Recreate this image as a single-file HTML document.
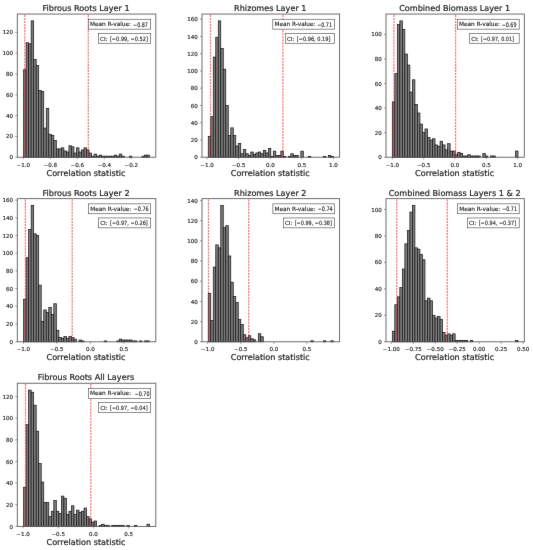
<!DOCTYPE html><html><head><meta charset="utf-8"><style>html,body{margin:0;padding:0;background:#fff;}svg{display:block;}text{text-rendering:geometricPrecision;font-family:"DejaVu Sans","Liberation Sans",sans-serif;fill:#222;stroke:#222;stroke-width:0.15;} text.bt{stroke-width:0.14;} text.tt{stroke-width:0.2;}</style></head><body>
<svg width="533" height="550" viewBox="0 0 533 550">
<rect width="533" height="550" fill="#fff"/>
<defs><filter id="bl" x="0" y="0" width="533" height="550" filterUnits="userSpaceOnUse" color-interpolation-filters="sRGB"><feConvolveMatrix order="3" kernelMatrix="0.00345 0.05875 0.00345 0.05875 1.00000 0.05875 0.00345 0.05875 0.00345" divisor="1.24881" edgeMode="duplicate"/></filter></defs><g filter="url(#bl)">
<g><g fill="#7c7c7c" stroke="#151515" stroke-width="0.7"><rect x="23.60" y="69.78" width="2.52" height="87.42"/><rect x="26.11" y="42.72" width="2.52" height="114.48"/><rect x="28.63" y="43.76" width="2.52" height="113.44"/><rect x="31.15" y="20.87" width="2.52" height="136.33"/><rect x="33.67" y="59.37" width="2.52" height="97.83"/><rect x="36.19" y="65.62" width="2.52" height="91.58"/><rect x="38.70" y="90.59" width="2.52" height="66.61"/><rect x="41.22" y="91.64" width="2.52" height="65.56"/><rect x="43.74" y="128.06" width="2.52" height="29.14"/><rect x="46.26" y="108.29" width="2.52" height="48.91"/><rect x="48.78" y="134.30" width="2.52" height="22.90"/><rect x="51.30" y="135.35" width="2.52" height="21.85"/><rect x="53.81" y="140.55" width="2.52" height="16.65"/><rect x="56.33" y="148.87" width="2.52" height="8.33"/><rect x="58.85" y="148.87" width="2.52" height="8.33"/><rect x="61.37" y="147.83" width="2.52" height="9.37"/><rect x="63.89" y="150.96" width="2.52" height="6.24"/><rect x="66.40" y="152.00" width="2.52" height="5.20"/><rect x="68.92" y="145.75" width="2.52" height="11.45"/><rect x="71.44" y="146.79" width="2.52" height="10.41"/><rect x="73.96" y="153.04" width="2.52" height="4.16"/><rect x="76.48" y="147.83" width="2.52" height="9.37"/><rect x="79.00" y="152.00" width="2.52" height="5.20"/><rect x="81.51" y="149.92" width="2.52" height="7.28"/><rect x="84.03" y="147.83" width="2.52" height="9.37"/><rect x="86.55" y="149.92" width="2.52" height="7.28"/><rect x="89.07" y="153.04" width="2.52" height="4.16"/><rect x="91.59" y="156.16" width="2.52" height="1.04"/><rect x="94.10" y="154.08" width="2.52" height="3.12"/><rect x="96.62" y="156.16" width="2.52" height="1.04"/><rect x="99.14" y="155.12" width="2.52" height="2.08"/><rect x="101.66" y="156.16" width="2.52" height="1.04"/><rect x="104.18" y="156.16" width="2.52" height="1.04"/><rect x="106.70" y="156.16" width="2.52" height="1.04"/><rect x="109.21" y="156.16" width="2.52" height="1.04"/><rect x="111.73" y="156.16" width="2.52" height="1.04"/><rect x="114.25" y="155.12" width="2.52" height="2.08"/><rect x="116.77" y="156.16" width="2.52" height="1.04"/><rect x="119.29" y="154.08" width="2.52" height="3.12"/><rect x="121.80" y="156.16" width="2.52" height="1.04"/><rect x="129.36" y="156.16" width="2.52" height="1.04"/><rect x="141.95" y="156.16" width="2.52" height="1.04"/><rect x="144.47" y="155.12" width="2.52" height="2.08"/><rect x="146.99" y="155.12" width="2.52" height="2.08"/></g><line x1="24.80" y1="157.20" x2="24.80" y2="14.05" stroke="#ff1020" stroke-opacity="0.58" stroke-width="1.25" stroke-dasharray="2.14 0.916" stroke-dashoffset="0.36"/><line x1="88.30" y1="157.20" x2="88.30" y2="14.05" stroke="#ff1020" stroke-opacity="0.58" stroke-width="1.25" stroke-dasharray="2.14 0.916" stroke-dashoffset="0.36"/><rect x="17.30" y="14.05" width="138.50" height="143.15" fill="none" stroke="#5e5e5e" stroke-width="0.9"/><line x1="23.30" y1="157.20" x2="23.30" y2="159.20" stroke="#5e5e5e" stroke-width="0.6"/><text x="23.30" y="166.55" font-size="5.55" text-anchor="middle">−1.0</text><line x1="50.30" y1="157.20" x2="50.30" y2="159.20" stroke="#5e5e5e" stroke-width="0.6"/><text x="50.30" y="166.55" font-size="5.55" text-anchor="middle">−0.8</text><line x1="77.30" y1="157.20" x2="77.30" y2="159.20" stroke="#5e5e5e" stroke-width="0.6"/><text x="77.30" y="166.55" font-size="5.55" text-anchor="middle">−0.6</text><line x1="104.30" y1="157.20" x2="104.30" y2="159.20" stroke="#5e5e5e" stroke-width="0.6"/><text x="104.30" y="166.55" font-size="5.55" text-anchor="middle">−0.4</text><line x1="131.30" y1="157.20" x2="131.30" y2="159.20" stroke="#5e5e5e" stroke-width="0.6"/><text x="131.30" y="166.55" font-size="5.55" text-anchor="middle">−0.2</text><line x1="15.30" y1="157.20" x2="17.30" y2="157.20" stroke="#5e5e5e" stroke-width="0.6"/><text x="13.10" y="159.30" font-size="5.55" text-anchor="end">0</text><line x1="15.30" y1="136.39" x2="17.30" y2="136.39" stroke="#5e5e5e" stroke-width="0.6"/><text x="13.10" y="138.49" font-size="5.55" text-anchor="end">20</text><line x1="15.30" y1="115.57" x2="17.30" y2="115.57" stroke="#5e5e5e" stroke-width="0.6"/><text x="13.10" y="117.67" font-size="5.55" text-anchor="end">40</text><line x1="15.30" y1="94.76" x2="17.30" y2="94.76" stroke="#5e5e5e" stroke-width="0.6"/><text x="13.10" y="96.86" font-size="5.55" text-anchor="end">60</text><line x1="15.30" y1="73.94" x2="17.30" y2="73.94" stroke="#5e5e5e" stroke-width="0.6"/><text x="13.10" y="76.04" font-size="5.55" text-anchor="end">80</text><line x1="15.30" y1="53.13" x2="17.30" y2="53.13" stroke="#5e5e5e" stroke-width="0.6"/><text x="13.10" y="55.23" font-size="5.55" text-anchor="end">100</text><line x1="15.30" y1="32.31" x2="17.30" y2="32.31" stroke="#5e5e5e" stroke-width="0.6"/><text x="13.10" y="34.41" font-size="5.55" text-anchor="end">120</text><text x="86.05" y="10.95" font-size="8.15" text-anchor="middle" class="tt">Fibrous Roots Layer 1</text><text x="86.05" y="175.80" font-size="8.1" text-anchor="middle" class="tt">Correlation statistic</text><rect x="88.30" y="19.25" width="62.40" height="9.90" fill="#fff" stroke="#444" stroke-width="0.6"/><text x="89.88" y="26.15" font-size="5.8" class="bt">Mean R-value:</text><text x="133.10" y="26.85" font-size="6.2" textLength="14.80" lengthAdjust="spacingAndGlyphs" class="bt">−0.87</text><rect x="98.50" y="33.35" width="52.20" height="9.90" fill="#fff" stroke="#444" stroke-width="0.6"/><text x="100.12" y="40.75" font-size="5.5" class="bt">CI:</text><text x="109.90" y="40.75" font-size="5.9" textLength="38.00" lengthAdjust="spacingAndGlyphs" class="bt">[−0.99, −0.52]</text></g>
<g><g fill="#7c7c7c" stroke="#151515" stroke-width="0.7"><rect x="208.25" y="136.49" width="2.50" height="20.71"/><rect x="210.76" y="116.65" width="2.50" height="40.55"/><rect x="213.26" y="57.11" width="2.50" height="100.09"/><rect x="215.76" y="37.26" width="2.50" height="119.94"/><rect x="218.26" y="20.87" width="2.50" height="136.33"/><rect x="220.76" y="48.48" width="2.50" height="108.72"/><rect x="223.27" y="69.19" width="2.50" height="88.01"/><rect x="225.77" y="105.43" width="2.50" height="51.77"/><rect x="228.27" y="135.63" width="2.50" height="21.57"/><rect x="230.77" y="127.86" width="2.50" height="29.34"/><rect x="233.27" y="135.63" width="2.50" height="21.57"/><rect x="235.77" y="145.98" width="2.50" height="11.22"/><rect x="238.28" y="143.39" width="2.50" height="13.81"/><rect x="240.78" y="153.75" width="2.50" height="3.45"/><rect x="243.28" y="149.43" width="2.50" height="7.77"/><rect x="245.78" y="153.75" width="2.50" height="3.45"/><rect x="248.28" y="155.47" width="2.50" height="1.73"/><rect x="250.79" y="152.02" width="2.50" height="5.18"/><rect x="253.29" y="154.61" width="2.50" height="2.59"/><rect x="255.79" y="152.89" width="2.50" height="4.31"/><rect x="258.29" y="152.02" width="2.50" height="5.18"/><rect x="260.79" y="153.75" width="2.50" height="3.45"/><rect x="263.29" y="150.30" width="2.50" height="6.90"/><rect x="265.80" y="152.89" width="2.50" height="4.31"/><rect x="268.30" y="148.57" width="2.50" height="8.63"/><rect x="270.80" y="156.34" width="2.50" height="0.86"/><rect x="273.30" y="151.16" width="2.50" height="6.04"/><rect x="275.80" y="155.47" width="2.50" height="1.73"/><rect x="278.31" y="155.47" width="2.50" height="1.73"/><rect x="280.81" y="151.16" width="2.50" height="6.04"/><rect x="283.31" y="156.34" width="2.50" height="0.86"/><rect x="288.31" y="156.34" width="2.50" height="0.86"/><rect x="290.81" y="153.75" width="2.50" height="3.45"/><rect x="293.32" y="155.47" width="2.50" height="1.73"/><rect x="295.82" y="155.47" width="2.50" height="1.73"/><rect x="300.82" y="151.16" width="2.50" height="6.04"/><rect x="308.33" y="156.34" width="2.50" height="0.86"/><rect x="323.34" y="156.34" width="2.50" height="0.86"/><rect x="328.34" y="155.47" width="2.50" height="1.73"/><rect x="330.84" y="156.34" width="2.50" height="0.86"/></g><line x1="210.50" y1="157.20" x2="210.50" y2="14.05" stroke="#ff1020" stroke-opacity="0.58" stroke-width="1.25" stroke-dasharray="2.14 0.916" stroke-dashoffset="0.36"/><line x1="282.90" y1="157.20" x2="282.90" y2="14.05" stroke="#ff1020" stroke-opacity="0.58" stroke-width="1.25" stroke-dasharray="2.14 0.916" stroke-dashoffset="0.36"/><rect x="202.00" y="14.05" width="137.60" height="143.15" fill="none" stroke="#5e5e5e" stroke-width="0.9"/><line x1="207.10" y1="157.20" x2="207.10" y2="159.20" stroke="#5e5e5e" stroke-width="0.6"/><text x="207.10" y="166.55" font-size="5.55" text-anchor="middle">−1.0</text><line x1="238.70" y1="157.20" x2="238.70" y2="159.20" stroke="#5e5e5e" stroke-width="0.6"/><text x="238.70" y="166.55" font-size="5.55" text-anchor="middle">−0.5</text><line x1="270.30" y1="157.20" x2="270.30" y2="159.20" stroke="#5e5e5e" stroke-width="0.6"/><text x="270.30" y="166.55" font-size="5.55" text-anchor="middle">0.0</text><line x1="301.90" y1="157.20" x2="301.90" y2="159.20" stroke="#5e5e5e" stroke-width="0.6"/><text x="301.90" y="166.55" font-size="5.55" text-anchor="middle">0.5</text><line x1="333.50" y1="157.20" x2="333.50" y2="159.20" stroke="#5e5e5e" stroke-width="0.6"/><text x="333.50" y="166.55" font-size="5.55" text-anchor="middle">1.0</text><line x1="200.00" y1="157.20" x2="202.00" y2="157.20" stroke="#5e5e5e" stroke-width="0.6"/><text x="197.80" y="159.30" font-size="5.55" text-anchor="end">0</text><line x1="200.00" y1="139.94" x2="202.00" y2="139.94" stroke="#5e5e5e" stroke-width="0.6"/><text x="197.80" y="142.04" font-size="5.55" text-anchor="end">20</text><line x1="200.00" y1="122.69" x2="202.00" y2="122.69" stroke="#5e5e5e" stroke-width="0.6"/><text x="197.80" y="124.79" font-size="5.55" text-anchor="end">40</text><line x1="200.00" y1="105.43" x2="202.00" y2="105.43" stroke="#5e5e5e" stroke-width="0.6"/><text x="197.80" y="107.53" font-size="5.55" text-anchor="end">60</text><line x1="200.00" y1="88.17" x2="202.00" y2="88.17" stroke="#5e5e5e" stroke-width="0.6"/><text x="197.80" y="90.27" font-size="5.55" text-anchor="end">80</text><line x1="200.00" y1="70.91" x2="202.00" y2="70.91" stroke="#5e5e5e" stroke-width="0.6"/><text x="197.80" y="73.01" font-size="5.55" text-anchor="end">100</text><line x1="200.00" y1="53.66" x2="202.00" y2="53.66" stroke="#5e5e5e" stroke-width="0.6"/><text x="197.80" y="55.76" font-size="5.55" text-anchor="end">120</text><line x1="200.00" y1="36.40" x2="202.00" y2="36.40" stroke="#5e5e5e" stroke-width="0.6"/><text x="197.80" y="38.50" font-size="5.55" text-anchor="end">140</text><line x1="200.00" y1="19.14" x2="202.00" y2="19.14" stroke="#5e5e5e" stroke-width="0.6"/><text x="197.80" y="21.24" font-size="5.55" text-anchor="end">160</text><text x="270.30" y="10.95" font-size="8.15" text-anchor="middle" class="tt">Rhizomes Layer 1</text><text x="270.30" y="175.80" font-size="8.1" text-anchor="middle" class="tt">Correlation statistic</text><rect x="272.80" y="19.25" width="61.70" height="9.90" fill="#fff" stroke="#444" stroke-width="0.6"/><text x="274.38" y="26.15" font-size="5.8" class="bt">Mean R-value:</text><text x="317.20" y="26.85" font-size="6.2" textLength="14.80" lengthAdjust="spacingAndGlyphs" class="bt">−0.71</text><rect x="285.30" y="33.35" width="49.20" height="9.90" fill="#fff" stroke="#444" stroke-width="0.6"/><text x="286.93" y="40.75" font-size="5.5" class="bt">CI:</text><text x="296.70" y="40.75" font-size="5.9" textLength="33.80" lengthAdjust="spacingAndGlyphs" class="bt">[−0.96, 0.19]</text></g>
<g><g fill="#7c7c7c" stroke="#151515" stroke-width="0.7"><rect x="392.29" y="101.93" width="2.51" height="55.27"/><rect x="394.80" y="73.68" width="2.51" height="83.52"/><rect x="397.32" y="24.55" width="2.51" height="132.65"/><rect x="399.83" y="20.87" width="2.51" height="136.33"/><rect x="402.34" y="29.46" width="2.51" height="127.74"/><rect x="404.86" y="54.03" width="2.51" height="103.17"/><rect x="407.37" y="65.08" width="2.51" height="92.12"/><rect x="409.89" y="92.10" width="2.51" height="65.10"/><rect x="412.40" y="79.82" width="2.51" height="77.38"/><rect x="414.92" y="104.39" width="2.51" height="52.81"/><rect x="417.43" y="112.98" width="2.51" height="44.22"/><rect x="419.95" y="124.04" width="2.51" height="33.16"/><rect x="422.46" y="132.64" width="2.51" height="24.56"/><rect x="424.98" y="128.95" width="2.51" height="28.25"/><rect x="427.49" y="137.55" width="2.51" height="19.65"/><rect x="430.00" y="140.00" width="2.51" height="17.20"/><rect x="432.52" y="138.78" width="2.51" height="18.42"/><rect x="435.03" y="144.92" width="2.51" height="12.28"/><rect x="437.55" y="146.15" width="2.51" height="11.05"/><rect x="440.06" y="141.23" width="2.51" height="15.97"/><rect x="442.58" y="144.92" width="2.51" height="12.28"/><rect x="445.09" y="149.83" width="2.51" height="7.37"/><rect x="447.61" y="143.69" width="2.51" height="13.51"/><rect x="450.12" y="151.06" width="2.51" height="6.14"/><rect x="452.64" y="151.06" width="2.51" height="6.14"/><rect x="455.15" y="154.74" width="2.51" height="2.46"/><rect x="457.66" y="152.29" width="2.51" height="4.91"/><rect x="460.18" y="153.52" width="2.51" height="3.68"/><rect x="462.69" y="155.97" width="2.51" height="1.23"/><rect x="465.21" y="155.97" width="2.51" height="1.23"/><rect x="467.72" y="154.74" width="2.51" height="2.46"/><rect x="470.24" y="155.97" width="2.51" height="1.23"/><rect x="472.75" y="155.97" width="2.51" height="1.23"/><rect x="475.27" y="155.97" width="2.51" height="1.23"/><rect x="477.78" y="155.97" width="2.51" height="1.23"/><rect x="482.81" y="153.52" width="2.51" height="3.68"/><rect x="485.32" y="155.97" width="2.51" height="1.23"/><rect x="490.35" y="155.97" width="2.51" height="1.23"/><rect x="492.87" y="155.97" width="2.51" height="1.23"/><rect x="515.50" y="151.06" width="2.51" height="6.14"/></g><line x1="394.00" y1="157.20" x2="394.00" y2="14.05" stroke="#ff1020" stroke-opacity="0.58" stroke-width="1.25" stroke-dasharray="2.14 0.916" stroke-dashoffset="0.36"/><line x1="455.60" y1="157.20" x2="455.60" y2="14.05" stroke="#ff1020" stroke-opacity="0.58" stroke-width="1.25" stroke-dasharray="2.14 0.916" stroke-dashoffset="0.36"/><rect x="386.00" y="14.05" width="138.30" height="143.15" fill="none" stroke="#5e5e5e" stroke-width="0.9"/><line x1="392.40" y1="157.20" x2="392.40" y2="159.20" stroke="#5e5e5e" stroke-width="0.6"/><text x="392.40" y="166.55" font-size="5.55" text-anchor="middle">−1.0</text><line x1="423.70" y1="157.20" x2="423.70" y2="159.20" stroke="#5e5e5e" stroke-width="0.6"/><text x="423.70" y="166.55" font-size="5.55" text-anchor="middle">−0.5</text><line x1="455.00" y1="157.20" x2="455.00" y2="159.20" stroke="#5e5e5e" stroke-width="0.6"/><text x="455.00" y="166.55" font-size="5.55" text-anchor="middle">0.0</text><line x1="486.30" y1="157.20" x2="486.30" y2="159.20" stroke="#5e5e5e" stroke-width="0.6"/><text x="486.30" y="166.55" font-size="5.55" text-anchor="middle">0.5</text><line x1="517.60" y1="157.20" x2="517.60" y2="159.20" stroke="#5e5e5e" stroke-width="0.6"/><text x="517.60" y="166.55" font-size="5.55" text-anchor="middle">1.0</text><line x1="384.00" y1="157.20" x2="386.00" y2="157.20" stroke="#5e5e5e" stroke-width="0.6"/><text x="381.80" y="159.30" font-size="5.55" text-anchor="end">0</text><line x1="384.00" y1="132.64" x2="386.00" y2="132.64" stroke="#5e5e5e" stroke-width="0.6"/><text x="381.80" y="134.74" font-size="5.55" text-anchor="end">20</text><line x1="384.00" y1="108.07" x2="386.00" y2="108.07" stroke="#5e5e5e" stroke-width="0.6"/><text x="381.80" y="110.17" font-size="5.55" text-anchor="end">40</text><line x1="384.00" y1="83.51" x2="386.00" y2="83.51" stroke="#5e5e5e" stroke-width="0.6"/><text x="381.80" y="85.61" font-size="5.55" text-anchor="end">60</text><line x1="384.00" y1="58.94" x2="386.00" y2="58.94" stroke="#5e5e5e" stroke-width="0.6"/><text x="381.80" y="61.04" font-size="5.55" text-anchor="end">80</text><line x1="384.00" y1="34.38" x2="386.00" y2="34.38" stroke="#5e5e5e" stroke-width="0.6"/><text x="381.80" y="36.48" font-size="5.55" text-anchor="end">100</text><text x="454.65" y="10.95" font-size="8.15" text-anchor="middle" class="tt">Combined Biomass Layer 1</text><text x="454.65" y="175.80" font-size="8.1" text-anchor="middle" class="tt">Correlation statistic</text><rect x="457.30" y="19.25" width="61.90" height="9.90" fill="#fff" stroke="#444" stroke-width="0.6"/><text x="458.88" y="26.15" font-size="5.8" class="bt">Mean R-value:</text><text x="501.70" y="26.85" font-size="6.2" textLength="14.80" lengthAdjust="spacingAndGlyphs" class="bt">−0.69</text><rect x="469.70" y="33.35" width="49.50" height="9.90" fill="#fff" stroke="#444" stroke-width="0.6"/><text x="471.32" y="40.75" font-size="5.5" class="bt">CI:</text><text x="481.10" y="40.75" font-size="5.9" textLength="32.90" lengthAdjust="spacingAndGlyphs" class="bt">[−0.97, 0.01]</text></g>
<g><g fill="#7c7c7c" stroke="#151515" stroke-width="0.7"><rect x="23.60" y="299.31" width="2.52" height="42.49"/><rect x="26.11" y="257.70" width="2.52" height="84.10"/><rect x="28.63" y="229.37" width="2.52" height="112.43"/><rect x="31.15" y="205.47" width="2.52" height="136.33"/><rect x="33.67" y="233.80" width="2.52" height="108.00"/><rect x="36.19" y="235.57" width="2.52" height="106.23"/><rect x="38.70" y="285.14" width="2.52" height="56.66"/><rect x="41.22" y="321.44" width="2.52" height="20.36"/><rect x="43.74" y="309.93" width="2.52" height="31.87"/><rect x="46.26" y="312.59" width="2.52" height="29.21"/><rect x="48.78" y="307.27" width="2.52" height="34.53"/><rect x="51.30" y="314.36" width="2.52" height="27.44"/><rect x="53.81" y="303.73" width="2.52" height="38.07"/><rect x="56.33" y="330.29" width="2.52" height="11.51"/><rect x="58.85" y="337.37" width="2.52" height="4.43"/><rect x="61.37" y="338.26" width="2.52" height="3.54"/><rect x="63.89" y="336.49" width="2.52" height="5.31"/><rect x="66.40" y="338.26" width="2.52" height="3.54"/><rect x="68.92" y="336.49" width="2.52" height="5.31"/><rect x="71.44" y="337.37" width="2.52" height="4.43"/><rect x="73.96" y="339.14" width="2.52" height="2.66"/><rect x="79.00" y="340.03" width="2.52" height="1.77"/><rect x="81.51" y="340.91" width="2.52" height="0.89"/><rect x="104.18" y="340.91" width="2.52" height="0.89"/><rect x="116.77" y="340.91" width="2.52" height="0.89"/><rect x="119.29" y="339.14" width="2.52" height="2.66"/><rect x="121.80" y="340.03" width="2.52" height="1.77"/><rect x="124.32" y="340.03" width="2.52" height="1.77"/><rect x="126.84" y="340.03" width="2.52" height="1.77"/><rect x="129.36" y="340.03" width="2.52" height="1.77"/><rect x="131.88" y="340.91" width="2.52" height="0.89"/><rect x="134.40" y="340.91" width="2.52" height="0.89"/><rect x="139.43" y="340.91" width="2.52" height="0.89"/><rect x="144.47" y="340.91" width="2.52" height="0.89"/><rect x="146.99" y="340.91" width="2.52" height="0.89"/></g><line x1="25.40" y1="341.80" x2="25.40" y2="198.65" stroke="#ff1020" stroke-opacity="0.58" stroke-width="1.25" stroke-dasharray="2.14 0.916" stroke-dashoffset="0.36"/><line x1="72.20" y1="341.80" x2="72.20" y2="198.65" stroke="#ff1020" stroke-opacity="0.58" stroke-width="1.25" stroke-dasharray="2.14 0.916" stroke-dashoffset="0.36"/><rect x="17.30" y="198.65" width="138.50" height="143.15" fill="none" stroke="#5e5e5e" stroke-width="0.9"/><line x1="23.40" y1="341.80" x2="23.40" y2="343.80" stroke="#5e5e5e" stroke-width="0.6"/><text x="23.40" y="351.15" font-size="5.55" text-anchor="middle">−1.0</text><line x1="56.90" y1="341.80" x2="56.90" y2="343.80" stroke="#5e5e5e" stroke-width="0.6"/><text x="56.90" y="351.15" font-size="5.55" text-anchor="middle">−0.5</text><line x1="90.40" y1="341.80" x2="90.40" y2="343.80" stroke="#5e5e5e" stroke-width="0.6"/><text x="90.40" y="351.15" font-size="5.55" text-anchor="middle">0.0</text><line x1="123.90" y1="341.80" x2="123.90" y2="343.80" stroke="#5e5e5e" stroke-width="0.6"/><text x="123.90" y="351.15" font-size="5.55" text-anchor="middle">0.5</text><line x1="15.30" y1="341.80" x2="17.30" y2="341.80" stroke="#5e5e5e" stroke-width="0.6"/><text x="13.10" y="343.90" font-size="5.55" text-anchor="end">0</text><line x1="15.30" y1="324.09" x2="17.30" y2="324.09" stroke="#5e5e5e" stroke-width="0.6"/><text x="13.10" y="326.19" font-size="5.55" text-anchor="end">20</text><line x1="15.30" y1="306.39" x2="17.30" y2="306.39" stroke="#5e5e5e" stroke-width="0.6"/><text x="13.10" y="308.49" font-size="5.55" text-anchor="end">40</text><line x1="15.30" y1="288.68" x2="17.30" y2="288.68" stroke="#5e5e5e" stroke-width="0.6"/><text x="13.10" y="290.78" font-size="5.55" text-anchor="end">60</text><line x1="15.30" y1="270.98" x2="17.30" y2="270.98" stroke="#5e5e5e" stroke-width="0.6"/><text x="13.10" y="273.08" font-size="5.55" text-anchor="end">80</text><line x1="15.30" y1="253.27" x2="17.30" y2="253.27" stroke="#5e5e5e" stroke-width="0.6"/><text x="13.10" y="255.37" font-size="5.55" text-anchor="end">100</text><line x1="15.30" y1="235.57" x2="17.30" y2="235.57" stroke="#5e5e5e" stroke-width="0.6"/><text x="13.10" y="237.67" font-size="5.55" text-anchor="end">120</text><line x1="15.30" y1="217.86" x2="17.30" y2="217.86" stroke="#5e5e5e" stroke-width="0.6"/><text x="13.10" y="219.96" font-size="5.55" text-anchor="end">140</text><line x1="15.30" y1="200.15" x2="17.30" y2="200.15" stroke="#5e5e5e" stroke-width="0.6"/><text x="13.10" y="202.25" font-size="5.55" text-anchor="end">160</text><text x="86.05" y="195.55" font-size="8.15" text-anchor="middle" class="tt">Fibrous Roots Layer 2</text><text x="86.05" y="360.40" font-size="8.1" text-anchor="middle" class="tt">Correlation statistic</text><rect x="88.60" y="203.85" width="62.10" height="9.90" fill="#fff" stroke="#444" stroke-width="0.6"/><text x="90.18" y="210.75" font-size="5.8" class="bt">Mean R-value:</text><text x="133.80" y="211.45" font-size="6.2" textLength="14.80" lengthAdjust="spacingAndGlyphs" class="bt">−0.76</text><rect x="98.60" y="217.95" width="52.10" height="9.90" fill="#fff" stroke="#444" stroke-width="0.6"/><text x="100.22" y="225.35" font-size="5.5" class="bt">CI:</text><text x="110.00" y="225.35" font-size="5.9" textLength="37.80" lengthAdjust="spacingAndGlyphs" class="bt">[−0.97, −0.26]</text></g>
<g><g fill="#7c7c7c" stroke="#151515" stroke-width="0.7"><rect x="208.25" y="293.33" width="2.50" height="48.47"/><rect x="210.76" y="320.59" width="2.50" height="21.21"/><rect x="213.26" y="267.07" width="2.50" height="74.73"/><rect x="215.76" y="244.85" width="2.50" height="96.95"/><rect x="218.26" y="247.88" width="2.50" height="93.92"/><rect x="220.76" y="205.47" width="2.50" height="136.33"/><rect x="223.27" y="227.68" width="2.50" height="114.12"/><rect x="225.77" y="225.66" width="2.50" height="116.14"/><rect x="228.27" y="255.96" width="2.50" height="85.84"/><rect x="230.77" y="282.22" width="2.50" height="59.58"/><rect x="233.27" y="296.36" width="2.50" height="45.44"/><rect x="235.77" y="302.41" width="2.50" height="39.39"/><rect x="238.28" y="319.58" width="2.50" height="22.22"/><rect x="240.78" y="324.63" width="2.50" height="17.17"/><rect x="243.28" y="334.73" width="2.50" height="7.07"/><rect x="245.78" y="337.76" width="2.50" height="4.04"/><rect x="248.28" y="335.74" width="2.50" height="6.06"/><rect x="250.79" y="338.77" width="2.50" height="3.03"/><rect x="253.29" y="339.78" width="2.50" height="2.02"/><rect x="258.29" y="333.72" width="2.50" height="8.08"/><rect x="260.79" y="336.75" width="2.50" height="5.05"/><rect x="310.83" y="340.79" width="2.50" height="1.01"/><rect x="323.34" y="340.79" width="2.50" height="1.01"/><rect x="330.84" y="340.79" width="2.50" height="1.01"/></g><line x1="208.50" y1="341.80" x2="208.50" y2="198.65" stroke="#ff1020" stroke-opacity="0.58" stroke-width="1.25" stroke-dasharray="2.14 0.916" stroke-dashoffset="0.36"/><line x1="248.70" y1="341.80" x2="248.70" y2="198.65" stroke="#ff1020" stroke-opacity="0.58" stroke-width="1.25" stroke-dasharray="2.14 0.916" stroke-dashoffset="0.36"/><rect x="202.00" y="198.65" width="137.60" height="143.15" fill="none" stroke="#5e5e5e" stroke-width="0.9"/><line x1="207.70" y1="341.80" x2="207.70" y2="343.80" stroke="#5e5e5e" stroke-width="0.6"/><text x="207.70" y="351.15" font-size="5.55" text-anchor="middle">−1.0</text><line x1="240.77" y1="341.80" x2="240.77" y2="343.80" stroke="#5e5e5e" stroke-width="0.6"/><text x="240.77" y="351.15" font-size="5.55" text-anchor="middle">−0.5</text><line x1="273.83" y1="341.80" x2="273.83" y2="343.80" stroke="#5e5e5e" stroke-width="0.6"/><text x="273.83" y="351.15" font-size="5.55" text-anchor="middle">0.0</text><line x1="306.90" y1="341.80" x2="306.90" y2="343.80" stroke="#5e5e5e" stroke-width="0.6"/><text x="306.90" y="351.15" font-size="5.55" text-anchor="middle">0.5</text><line x1="200.00" y1="341.80" x2="202.00" y2="341.80" stroke="#5e5e5e" stroke-width="0.6"/><text x="197.80" y="343.90" font-size="5.55" text-anchor="end">0</text><line x1="200.00" y1="321.60" x2="202.00" y2="321.60" stroke="#5e5e5e" stroke-width="0.6"/><text x="197.80" y="323.70" font-size="5.55" text-anchor="end">20</text><line x1="200.00" y1="301.40" x2="202.00" y2="301.40" stroke="#5e5e5e" stroke-width="0.6"/><text x="197.80" y="303.50" font-size="5.55" text-anchor="end">40</text><line x1="200.00" y1="281.21" x2="202.00" y2="281.21" stroke="#5e5e5e" stroke-width="0.6"/><text x="197.80" y="283.31" font-size="5.55" text-anchor="end">60</text><line x1="200.00" y1="261.01" x2="202.00" y2="261.01" stroke="#5e5e5e" stroke-width="0.6"/><text x="197.80" y="263.11" font-size="5.55" text-anchor="end">80</text><line x1="200.00" y1="240.81" x2="202.00" y2="240.81" stroke="#5e5e5e" stroke-width="0.6"/><text x="197.80" y="242.91" font-size="5.55" text-anchor="end">100</text><line x1="200.00" y1="220.61" x2="202.00" y2="220.61" stroke="#5e5e5e" stroke-width="0.6"/><text x="197.80" y="222.71" font-size="5.55" text-anchor="end">120</text><line x1="200.00" y1="200.42" x2="202.00" y2="200.42" stroke="#5e5e5e" stroke-width="0.6"/><text x="197.80" y="202.52" font-size="5.55" text-anchor="end">140</text><text x="270.30" y="195.55" font-size="8.15" text-anchor="middle" class="tt">Rhizomes Layer 2</text><text x="270.30" y="360.40" font-size="8.1" text-anchor="middle" class="tt">Correlation statistic</text><rect x="272.90" y="203.85" width="61.60" height="9.90" fill="#fff" stroke="#444" stroke-width="0.6"/><text x="274.48" y="210.75" font-size="5.8" class="bt">Mean R-value:</text><text x="317.80" y="211.45" font-size="6.2" textLength="14.80" lengthAdjust="spacingAndGlyphs" class="bt">−0.74</text><rect x="283.30" y="217.95" width="51.20" height="9.90" fill="#fff" stroke="#444" stroke-width="0.6"/><text x="284.93" y="225.35" font-size="5.5" class="bt">CI:</text><text x="294.70" y="225.35" font-size="5.9" textLength="37.20" lengthAdjust="spacingAndGlyphs" class="bt">[−0.99, −0.38]</text></g>
<g><g fill="#7c7c7c" stroke="#151515" stroke-width="0.7"><rect x="392.29" y="331.21" width="2.51" height="10.59"/><rect x="394.80" y="304.74" width="2.51" height="37.06"/><rect x="397.32" y="296.80" width="2.51" height="45.00"/><rect x="399.83" y="287.53" width="2.51" height="54.27"/><rect x="402.34" y="269.00" width="2.51" height="72.80"/><rect x="404.86" y="243.85" width="2.51" height="97.95"/><rect x="407.37" y="230.62" width="2.51" height="111.18"/><rect x="409.89" y="212.08" width="2.51" height="129.72"/><rect x="412.40" y="205.47" width="2.51" height="136.33"/><rect x="414.92" y="247.82" width="2.51" height="93.98"/><rect x="417.43" y="249.15" width="2.51" height="92.65"/><rect x="419.95" y="254.44" width="2.51" height="87.36"/><rect x="422.46" y="259.74" width="2.51" height="82.06"/><rect x="424.98" y="300.77" width="2.51" height="41.03"/><rect x="427.49" y="298.12" width="2.51" height="43.68"/><rect x="430.00" y="300.77" width="2.51" height="41.03"/><rect x="432.52" y="315.33" width="2.51" height="26.47"/><rect x="435.03" y="317.97" width="2.51" height="23.83"/><rect x="437.55" y="316.65" width="2.51" height="25.15"/><rect x="440.06" y="319.30" width="2.51" height="22.50"/><rect x="442.58" y="332.53" width="2.51" height="9.27"/><rect x="445.09" y="335.18" width="2.51" height="6.62"/><rect x="447.61" y="333.86" width="2.51" height="7.94"/><rect x="450.12" y="335.18" width="2.51" height="6.62"/><rect x="452.64" y="333.86" width="2.51" height="7.94"/><rect x="455.15" y="340.48" width="2.51" height="1.32"/><rect x="457.66" y="340.48" width="2.51" height="1.32"/><rect x="460.18" y="340.48" width="2.51" height="1.32"/><rect x="462.69" y="340.48" width="2.51" height="1.32"/><rect x="465.21" y="340.48" width="2.51" height="1.32"/><rect x="470.24" y="340.48" width="2.51" height="1.32"/><rect x="515.50" y="340.48" width="2.51" height="1.32"/></g><line x1="396.70" y1="341.80" x2="396.70" y2="198.65" stroke="#ff1020" stroke-opacity="0.58" stroke-width="1.25" stroke-dasharray="2.14 0.916" stroke-dashoffset="0.36"/><line x1="447.30" y1="341.80" x2="447.30" y2="198.65" stroke="#ff1020" stroke-opacity="0.58" stroke-width="1.25" stroke-dasharray="2.14 0.916" stroke-dashoffset="0.36"/><rect x="386.00" y="198.65" width="138.30" height="143.15" fill="none" stroke="#5e5e5e" stroke-width="0.9"/><line x1="391.30" y1="341.80" x2="391.30" y2="343.80" stroke="#5e5e5e" stroke-width="0.6"/><text x="391.30" y="351.15" font-size="5.55" text-anchor="middle">−1.00</text><line x1="413.27" y1="341.80" x2="413.27" y2="343.80" stroke="#5e5e5e" stroke-width="0.6"/><text x="413.27" y="351.15" font-size="5.55" text-anchor="middle">−0.75</text><line x1="435.23" y1="341.80" x2="435.23" y2="343.80" stroke="#5e5e5e" stroke-width="0.6"/><text x="435.23" y="351.15" font-size="5.55" text-anchor="middle">−0.50</text><line x1="457.20" y1="341.80" x2="457.20" y2="343.80" stroke="#5e5e5e" stroke-width="0.6"/><text x="457.20" y="351.15" font-size="5.55" text-anchor="middle">−0.25</text><line x1="479.17" y1="341.80" x2="479.17" y2="343.80" stroke="#5e5e5e" stroke-width="0.6"/><text x="479.17" y="351.15" font-size="5.55" text-anchor="middle">0.00</text><line x1="501.13" y1="341.80" x2="501.13" y2="343.80" stroke="#5e5e5e" stroke-width="0.6"/><text x="501.13" y="351.15" font-size="5.55" text-anchor="middle">0.25</text><line x1="523.10" y1="341.80" x2="523.10" y2="343.80" stroke="#5e5e5e" stroke-width="0.6"/><text x="523.10" y="351.15" font-size="5.55" text-anchor="middle">0.50</text><line x1="384.00" y1="341.80" x2="386.00" y2="341.80" stroke="#5e5e5e" stroke-width="0.6"/><text x="381.80" y="343.90" font-size="5.55" text-anchor="end">0</text><line x1="384.00" y1="315.33" x2="386.00" y2="315.33" stroke="#5e5e5e" stroke-width="0.6"/><text x="381.80" y="317.43" font-size="5.55" text-anchor="end">20</text><line x1="384.00" y1="288.86" x2="386.00" y2="288.86" stroke="#5e5e5e" stroke-width="0.6"/><text x="381.80" y="290.96" font-size="5.55" text-anchor="end">40</text><line x1="384.00" y1="262.38" x2="386.00" y2="262.38" stroke="#5e5e5e" stroke-width="0.6"/><text x="381.80" y="264.48" font-size="5.55" text-anchor="end">60</text><line x1="384.00" y1="235.91" x2="386.00" y2="235.91" stroke="#5e5e5e" stroke-width="0.6"/><text x="381.80" y="238.01" font-size="5.55" text-anchor="end">80</text><line x1="384.00" y1="209.44" x2="386.00" y2="209.44" stroke="#5e5e5e" stroke-width="0.6"/><text x="381.80" y="211.54" font-size="5.55" text-anchor="end">100</text><text x="454.65" y="195.55" font-size="8.15" text-anchor="middle" class="tt">Combined Biomass Layers 1 &amp; 2</text><text x="454.65" y="360.40" font-size="8.1" text-anchor="middle" class="tt">Correlation statistic</text><rect x="457.60" y="203.85" width="61.60" height="9.90" fill="#fff" stroke="#444" stroke-width="0.6"/><text x="459.18" y="210.75" font-size="5.8" class="bt">Mean R-value:</text><text x="502.20" y="211.45" font-size="6.2" textLength="14.80" lengthAdjust="spacingAndGlyphs" class="bt">−0.71</text><rect x="467.30" y="217.95" width="51.90" height="9.90" fill="#fff" stroke="#444" stroke-width="0.6"/><text x="468.93" y="225.35" font-size="5.5" class="bt">CI:</text><text x="478.70" y="225.35" font-size="5.9" textLength="37.40" lengthAdjust="spacingAndGlyphs" class="bt">[−0.94, −0.37]</text></g>
<g><g fill="#7c7c7c" stroke="#151515" stroke-width="0.7"><rect x="23.60" y="487.45" width="2.52" height="38.95"/><rect x="26.11" y="424.69" width="2.52" height="101.71"/><rect x="28.63" y="390.07" width="2.52" height="136.33"/><rect x="31.15" y="392.23" width="2.52" height="134.17"/><rect x="33.67" y="405.21" width="2.52" height="121.19"/><rect x="36.19" y="431.18" width="2.52" height="95.22"/><rect x="38.70" y="463.64" width="2.52" height="62.76"/><rect x="41.22" y="482.04" width="2.52" height="44.36"/><rect x="43.74" y="502.60" width="2.52" height="23.80"/><rect x="46.26" y="502.60" width="2.52" height="23.80"/><rect x="48.78" y="516.66" width="2.52" height="9.74"/><rect x="51.30" y="511.25" width="2.52" height="15.15"/><rect x="53.81" y="500.43" width="2.52" height="25.97"/><rect x="56.33" y="511.25" width="2.52" height="15.15"/><rect x="58.85" y="513.42" width="2.52" height="12.98"/><rect x="61.37" y="496.10" width="2.52" height="30.30"/><rect x="63.89" y="498.27" width="2.52" height="28.13"/><rect x="66.40" y="514.50" width="2.52" height="11.90"/><rect x="68.92" y="511.25" width="2.52" height="15.15"/><rect x="71.44" y="505.84" width="2.52" height="20.56"/><rect x="73.96" y="514.50" width="2.52" height="11.90"/><rect x="76.48" y="510.17" width="2.52" height="16.23"/><rect x="79.00" y="512.33" width="2.52" height="14.07"/><rect x="81.51" y="511.25" width="2.52" height="15.15"/><rect x="84.03" y="508.01" width="2.52" height="18.39"/><rect x="86.55" y="516.66" width="2.52" height="9.74"/><rect x="89.07" y="518.83" width="2.52" height="7.57"/><rect x="91.59" y="522.07" width="2.52" height="4.33"/><rect x="94.10" y="520.99" width="2.52" height="5.41"/><rect x="99.14" y="525.32" width="2.52" height="1.08"/><rect x="101.66" y="524.24" width="2.52" height="2.16"/><rect x="104.18" y="525.32" width="2.52" height="1.08"/><rect x="106.70" y="525.32" width="2.52" height="1.08"/><rect x="111.73" y="525.32" width="2.52" height="1.08"/><rect x="114.25" y="525.32" width="2.52" height="1.08"/><rect x="116.77" y="525.32" width="2.52" height="1.08"/><rect x="119.29" y="525.32" width="2.52" height="1.08"/><rect x="121.80" y="525.32" width="2.52" height="1.08"/><rect x="126.84" y="525.32" width="2.52" height="1.08"/><rect x="134.40" y="525.32" width="2.52" height="1.08"/><rect x="146.99" y="524.24" width="2.52" height="2.16"/></g><line x1="25.50" y1="526.40" x2="25.50" y2="383.25" stroke="#ff1020" stroke-opacity="0.58" stroke-width="1.25" stroke-dasharray="2.14 0.916" stroke-dashoffset="0.36"/><line x1="90.80" y1="526.40" x2="90.80" y2="383.25" stroke="#ff1020" stroke-opacity="0.58" stroke-width="1.25" stroke-dasharray="2.14 0.916" stroke-dashoffset="0.36"/><rect x="17.30" y="383.25" width="138.50" height="143.15" fill="none" stroke="#5e5e5e" stroke-width="0.9"/><line x1="23.00" y1="526.40" x2="23.00" y2="528.40" stroke="#5e5e5e" stroke-width="0.6"/><text x="23.00" y="535.75" font-size="5.55" text-anchor="middle">−1.0</text><line x1="58.20" y1="526.40" x2="58.20" y2="528.40" stroke="#5e5e5e" stroke-width="0.6"/><text x="58.20" y="535.75" font-size="5.55" text-anchor="middle">−0.5</text><line x1="93.40" y1="526.40" x2="93.40" y2="528.40" stroke="#5e5e5e" stroke-width="0.6"/><text x="93.40" y="535.75" font-size="5.55" text-anchor="middle">0.0</text><line x1="128.60" y1="526.40" x2="128.60" y2="528.40" stroke="#5e5e5e" stroke-width="0.6"/><text x="128.60" y="535.75" font-size="5.55" text-anchor="middle">0.5</text><line x1="15.30" y1="526.40" x2="17.30" y2="526.40" stroke="#5e5e5e" stroke-width="0.6"/><text x="13.10" y="528.50" font-size="5.55" text-anchor="end">0</text><line x1="15.30" y1="504.76" x2="17.30" y2="504.76" stroke="#5e5e5e" stroke-width="0.6"/><text x="13.10" y="506.86" font-size="5.55" text-anchor="end">20</text><line x1="15.30" y1="483.12" x2="17.30" y2="483.12" stroke="#5e5e5e" stroke-width="0.6"/><text x="13.10" y="485.22" font-size="5.55" text-anchor="end">40</text><line x1="15.30" y1="461.48" x2="17.30" y2="461.48" stroke="#5e5e5e" stroke-width="0.6"/><text x="13.10" y="463.58" font-size="5.55" text-anchor="end">60</text><line x1="15.30" y1="439.84" x2="17.30" y2="439.84" stroke="#5e5e5e" stroke-width="0.6"/><text x="13.10" y="441.94" font-size="5.55" text-anchor="end">80</text><line x1="15.30" y1="418.20" x2="17.30" y2="418.20" stroke="#5e5e5e" stroke-width="0.6"/><text x="13.10" y="420.30" font-size="5.55" text-anchor="end">100</text><line x1="15.30" y1="396.56" x2="17.30" y2="396.56" stroke="#5e5e5e" stroke-width="0.6"/><text x="13.10" y="398.66" font-size="5.55" text-anchor="end">120</text><text x="86.05" y="380.15" font-size="8.15" text-anchor="middle" class="tt">Fibrous Roots All Layers</text><text x="86.05" y="545.00" font-size="8.1" text-anchor="middle" class="tt">Correlation statistic</text><rect x="88.40" y="388.45" width="62.30" height="9.90" fill="#fff" stroke="#444" stroke-width="0.6"/><text x="89.98" y="395.35" font-size="5.8" class="bt">Mean R-value:</text><text x="134.70" y="396.05" font-size="6.2" textLength="14.80" lengthAdjust="spacingAndGlyphs" class="bt">−0.70</text><rect x="98.60" y="402.55" width="52.10" height="9.90" fill="#fff" stroke="#444" stroke-width="0.6"/><text x="100.22" y="409.95" font-size="5.5" class="bt">CI:</text><text x="110.00" y="409.95" font-size="5.9" textLength="37.60" lengthAdjust="spacingAndGlyphs" class="bt">[−0.97, −0.04]</text></g>
</g></svg></body></html>
